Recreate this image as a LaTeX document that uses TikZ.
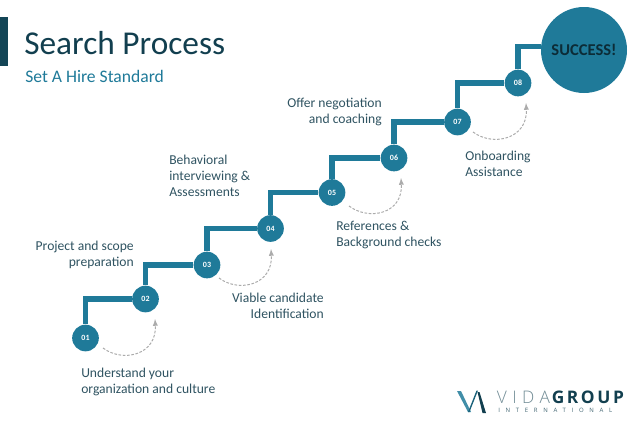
\documentclass[tikz,border=0pt]{standalone}
\usepackage{fontspec}
\setmainfont{Carlito}
\newfontfamily\vidalight[LetterSpace=32]{Open Sans Light}
\newfontfamily\vidabold[LetterSpace=15]{Open Sans}
\newfontfamily\vidasmall[LetterSpace=95]{Open Sans}
\definecolor{stepteal}{HTML}{1F7A99}
\definecolor{titleink}{HTML}{123F4F}
\definecolor{labelink}{HTML}{2F5361}
\definecolor{arcgrey}{HTML}{ABABAB}
\tikzset{
	stepnode/.style={circle, fill=stepteal, minimum size=20pt, inner sep=0pt, text=white, font=\fontsize{6}{7}\selectfont\bfseries},
	stepline/.style={draw=stepteal, line width=3.9pt},
	arcline/.style={->, >=latex, draw=arcgrey, dash pattern=on 2pt off 1.2pt, line width=.75pt},
	steplabel/.style={text=labelink, font=\fontsize{10.2}{12}\selectfont, inner sep=0pt}
}
\begin{document}
\begin{tikzpicture}[x=.75pt, y=-.75pt]
	\useasboundingbox (0,0) rectangle (638,425);
	\fill[titleink!90!stepteal] (0,17) rectangle (8,66);
	\node (title) [anchor=base west, inner sep=0pt, text=titleink, font=\fontsize{25}{30}\selectfont] at (24,54) {Search Process};
	\node (subtitle) [anchor=base west, inner sep=0pt, text=stepteal, font=\fontsize{13.2}{15}\selectfont] at (25,82) {Set A Hire Standard};
	% steps
	\node (s1) [stepnode] at (85.5,338) {01};
	\node (s2) [stepnode] at (145.5,299) {02};
	\node (s3) [stepnode] at (207,265) {03};
	\node (s4) [stepnode] at (270.5,228.5) {04};
	\node (s5) [stepnode] at (332,192.5) {05};
	\node (s6) [stepnode] at (394,158) {06};
	\node (s7) [stepnode] at (457.5,122) {07};
	\node (s8) [stepnode] at (518,83) {08};
	\node (win) [circle, fill=stepteal, minimum size=64.5pt, inner sep=0pt, text=titleink!70!black, font=\fontsize{12.4}{14}\selectfont\bfseries] at (584,50) {SUCCESS!};
	\draw[stepline] (s1) |- (s2);
	\draw[stepline] (s2) |- (s3);
	\draw[stepline] (s3) |- (s4);
	\draw[stepline] (s4) |- (s5);
	\draw[stepline] (s5) |- (s6);
	\draw[stepline] (s6) |- (s7);
	\draw[stepline] (s7) |- (s8);
	\draw[stepline] (s8) |- (win.175);
	% dashed arcs
	\coordinate (a1) at (103,348);
	\coordinate (b1) at (155,319);
	\coordinate (a3) at (219,278);
	\coordinate (b3) at (271,249);
	\coordinate (a5) at (349,206);
	\coordinate (b5) at (401,178);
	\coordinate (a7) at (473,132);
	\coordinate (b7) at (526,103);
	\draw[arcline] (a1) .. controls +(20,15) and +(2,36) .. (b1);
	\draw[arcline] (a3) .. controls +(20,15) and +(2,36) .. (b3);
	\draw[arcline] (a5) .. controls +(20,15) and +(2,36) .. (b5);
	\draw[arcline] (a7) .. controls +(20,15) and +(2,36) .. (b7);
	% labels
	\node (l1) [steplabel, anchor=north west, align=left] at (81,367.5) {Understand your\\organization and culture};
	\node (l2) [steplabel, anchor=north east, align=right] at (134,240.5) {Project and scope\\preparation};
	\node (l3) [steplabel, anchor=north east, align=right] at (324,292.5) {Viable candidate\\Identification};
	\node (l4) [steplabel, anchor=north west, align=left] at (169,154.5) {Behavioral\\interviewing \&\\Assessments};
	\node (l5) [steplabel, anchor=north west, align=left] at (336,220.5) {References \&\\Background checks};
	\node (l6) [steplabel, anchor=north east, align=right] at (382,97.5) {Offer negotiation\\and coaching};
	\node (l7) [steplabel, anchor=north west, align=left] at (465,150.5) {Onboarding\\Assistance};
	% logo
	\fill[stepteal!85!white] (457,391) -- (461,391) -- (471,412) -- (468,412) -- cycle;
	\fill[stepteal!60!titleink] (468,412) -- (476.5,390.5) -- (478,390.5) -- (469.5,412) -- cycle;
	\fill[titleink] (477.5,392) -- (479.5,392) -- (486,413) -- (482.5,413) -- cycle;
	\node (vida) [anchor=base west, inner sep=0pt, text=titleink!60!white, font=\fontsize{13}{15}\selectfont\vidalight] at (496.5,403.5) {VIDA};
	\node (group) [anchor=base west, inner sep=0pt, text=titleink, font=\fontsize{13}{15}\selectfont\vidabold\bfseries] at (551.5,403.5) {GROUP};
	\node (intl) [anchor=base west, inner sep=0pt, text=titleink!80!white, font=\fontsize{4.5}{6}\selectfont\vidasmall] at (498,412.5) {INTERNATIONAL};
\end{tikzpicture}
\end{document}
